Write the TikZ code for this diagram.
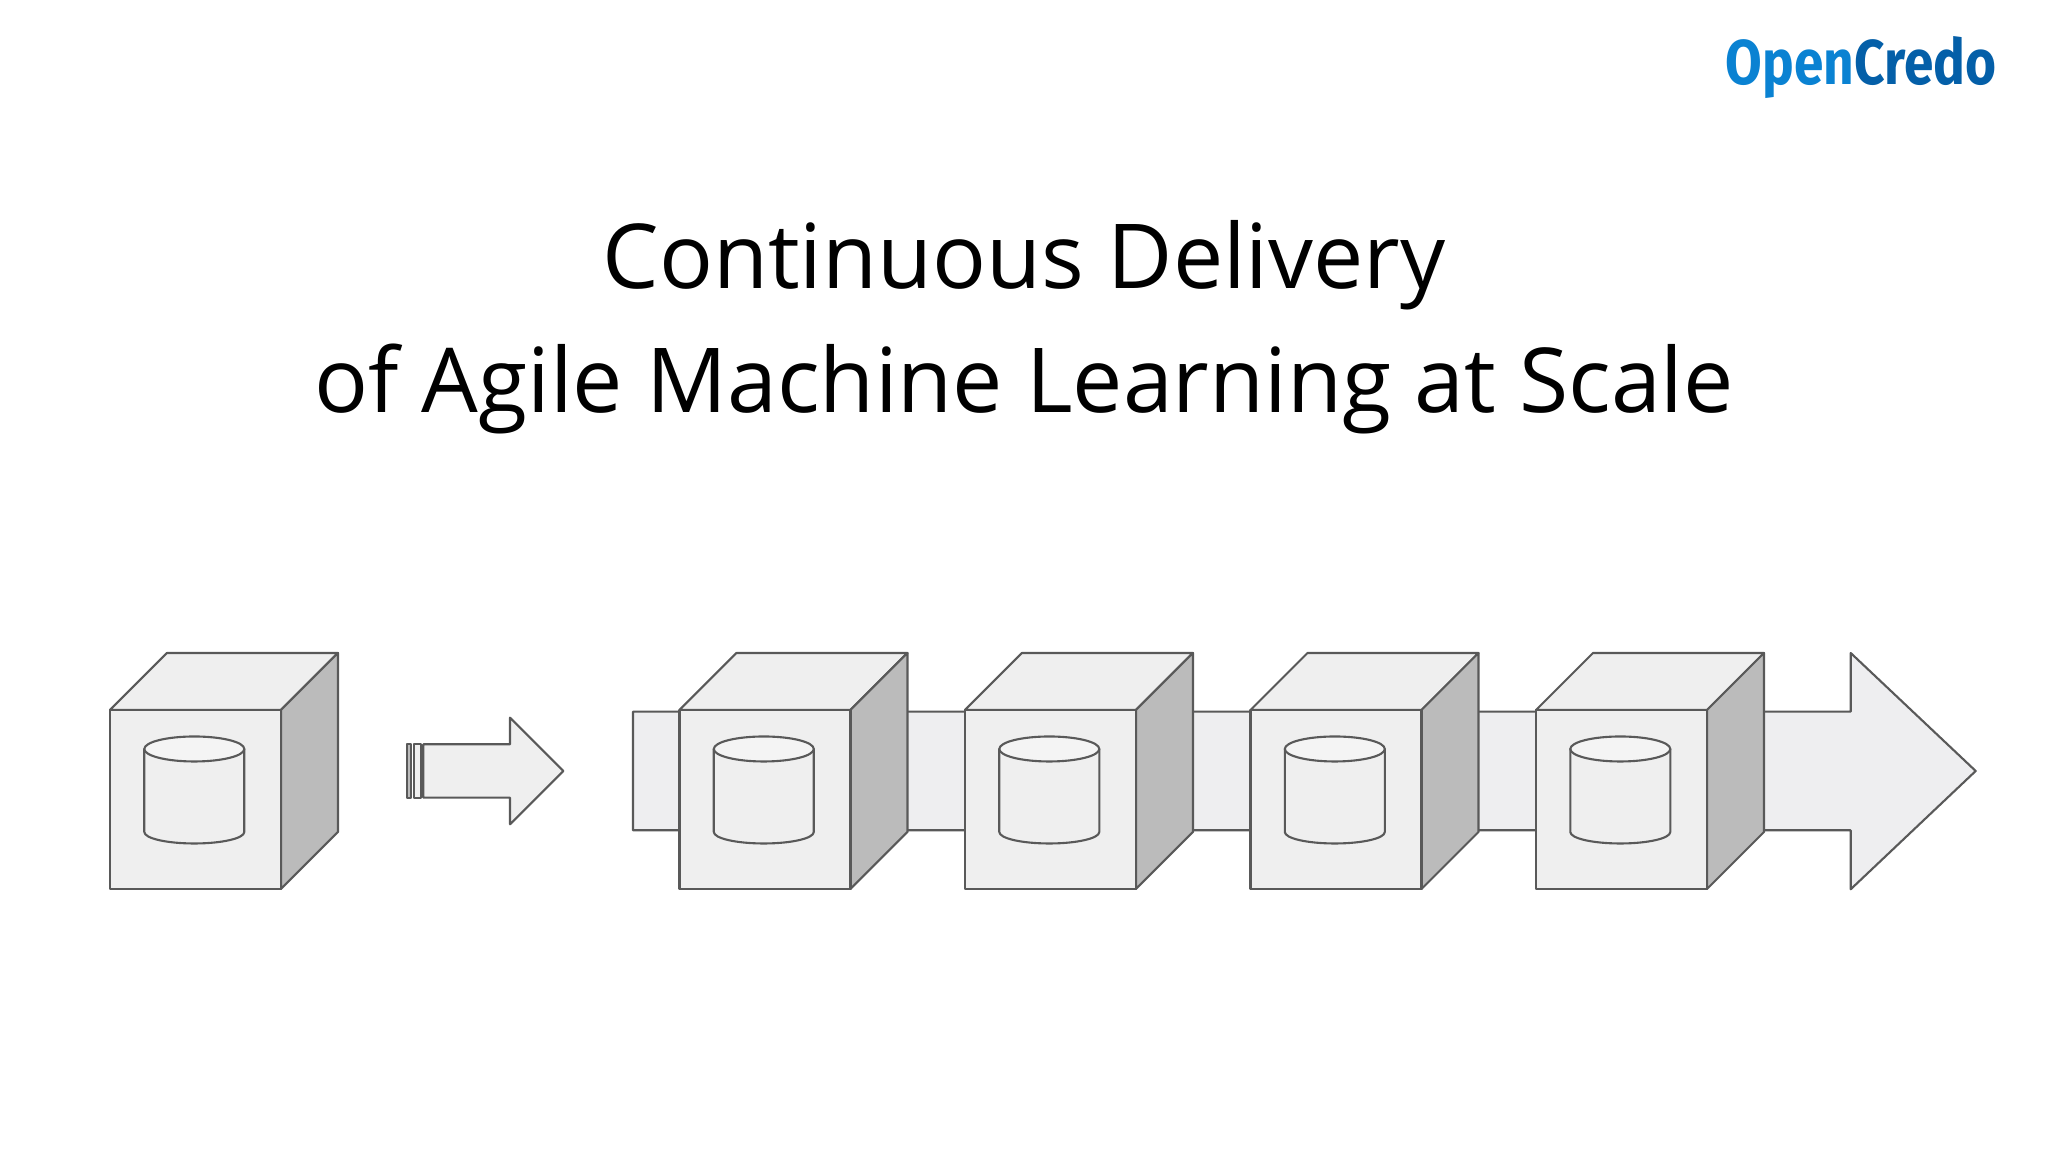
\documentclass[tikz,border=0pt]{standalone}
\usepackage{fontspec}
\setmainfont{Open Sans}
\newfontfamily\logofont[FakeStretch=0.84]{Fira Sans Bold}
\usepackage{tikz}
\usetikzlibrary{calc}

\definecolor{edgegrey}{HTML}{595959}
\definecolor{facegrey}{HTML}{EFEFEF}
\definecolor{sidegrey}{HTML}{BBBBBB}
\definecolor{lidgrey}{HTML}{F4F4F4}
\definecolor{pipegrey}{HTML}{EEEEF0}
\definecolor{logoblue}{HTML}{0A82D2}
\definecolor{logodark}{HTML}{045FA8}

\tikzset{
  outline/.style={draw=edgegrey, line width=0.6pt, line join=round},
  face/.style={outline, fill=facegrey},
  side/.style={outline, fill=sidegrey},
  titletext/.style={anchor=base, inner sep=0pt, font=\fontsize{25.5}{25.5}\selectfont},
}

\newcommand{\datacube}[1]{
  \begin{scope}[shift={(#1, 2.63)}]
    \draw[face] (0, 1.79) -- (0.57, 2.36) -- (2.28, 2.36) -- (1.71, 1.79) -- cycle;
    \draw[side] (1.71, 0) -- (2.28, 0.57) -- (2.28, 2.36) -- (1.71, 1.79) -- cycle;
    \draw[face] (0, 0) rectangle (1.71, 1.79);
    \draw[face] (0.343, 1.40) -- (0.343, 0.57) arc[start angle=180, end angle=360, x radius=0.5, y radius=0.115] -- (1.343, 1.40) -- cycle;
    \draw[outline, fill=lidgrey] (0.843, 1.40) ellipse (0.5 and 0.125);
  \end{scope}
}

\begin{document}
\begin{tikzpicture}
      \useasboundingbox (0, 0) rectangle (20.48, 11.52);
      % title
      \node[titletext] (titleone) at (10.24, 8.63) {Continuous Delivery};
      \node[titletext] (titletwo) at (10.24, 7.39) {of Agile Machine Learning at Scale};
      % logo
      \node[anchor=base east, inner sep=0pt, font=\logofont\fontsize{18}{18}\selectfont] (logo) at (19.97, 10.67) {\textcolor{logoblue}{Open}\textcolor{logodark}{Credo}};
      % small arrow
      \draw[side] (4.07, 3.543) rectangle (4.11, 4.077);
      \draw[face] (4.14, 3.543) rectangle (4.21, 4.077);
      \draw[face] (4.233, 3.543) -- (4.233, 4.077) -- (5.10, 4.077) -- (5.10, 4.343) -- (5.633, 3.81) -- (5.10, 3.277) -- (5.10, 3.543) -- cycle;
      % big arrow
      \draw[outline, fill=pipegrey] (6.33, 3.217) -- (6.33, 4.403) -- (18.507, 4.403) -- (18.507, 4.99) -- (19.757, 3.81) -- (18.507, 2.627) -- (18.507, 3.217) -- cycle;
      % cubes
      \datacube{1.10}
      \datacube{6.795}
      \datacube{9.65}
      \datacube{12.505}
      \datacube{15.36}
    \end{tikzpicture}
\end{document}
